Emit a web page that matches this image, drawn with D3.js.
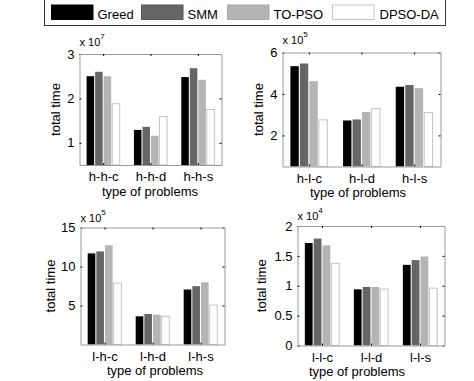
<!DOCTYPE html>
<html>
<head>
<meta charset="utf-8">
<script src="https://cdn.jsdelivr.net/npm/d3@7"></script>
<style>
  html, body { margin: 0; padding: 0; background: #fff; }
  svg { display: block; font-family: "Liberation Sans", Arial, Helvetica, sans-serif; }
</style>
</head>
<body>
<svg id="chart" width="474" height="381"></svg>
<script>
// ---------- data ----------
const series = ["Greed", "SMM", "TO-PSO", "DPSO-DA"];

const catsHH = ["h-h-c", "h-h-d", "h-h-s"];
const catsHL = ["h-l-c", "h-l-d", "h-l-s"];
const catsLH = ["l-h-c", "l-h-d", "l-h-s"];
const catsLL = ["l-l-c", "l-l-d", "l-l-s"];

// values per series, in order of the categories
const hhGreed = [2.50e7, 1.29e7, 2.48e7];
const hhSMM   = [2.60e7, 1.36e7, 2.68e7];
const hhTOPSO = [2.50e7, 1.16e7, 2.42e7];
const hhDPSO  = [1.88e7, 1.59e7, 1.75e7];

const hlGreed = [5.34e5, 2.72e5, 4.35e5];
const hlSMM   = [5.47e5, 2.77e5, 4.43e5];
const hlTOPSO = [4.62e5, 3.13e5, 4.28e5];
const hlDPSO  = [2.75e5, 3.30e5, 3.10e5];

const lhGreed = [11.68e5, 3.61e5, 7.05e5];
const lhSMM   = [11.93e5, 3.92e5, 7.48e5];
const lhTOPSO = [12.73e5, 3.82e5, 7.98e5];
const lhDPSO  = [7.87e5, 3.61e5, 5.06e5];

const llGreed = [1.715e4, 0.94e4, 1.35e4];
const llSMM   = [1.79e4, 0.98e4, 1.43e4];
const llTOPSO = [1.675e4, 0.98e4, 1.49e4];
const llDPSO  = [1.375e4, 0.945e4, 0.96e4];

const ticksHH = [1e7, 2e7, 3e7];
const ticksHL = [2e5, 4e5, 6e5];
const ticksLH = [5e5, 10e5, 15e5];
const ticksLL = [0, 0.5e4, 1e4, 1.5e4, 2e4];

const domHH = [0.5e7, 3e7];
const domHL = [0.5e5, 6e5];
const domLH = [0, 15e5];
const domLL = [0, 2e4];

const expHH = 7, expHL = 5, expLH = 5, expLL = 4;

const xTitle = "type of problems";
const yTitle = "total time";

// ---------- styles ----------
const fills   = ["#000000", "#666666", "#b4b4b4", "#ffffff"];
const strokes = ["#000000", "#555555", "#a8a8a8", "#c4c4c4"];

const panels = [
  { cats: catsHH, vals: [hhGreed, hhSMM, hhTOPSO, hhDPSO], ticks: ticksHH, dom: domHH, exp: expHH,
    x0: 79.5, x1: 221.5, y0: 54, y1: 165, ylabX: 60, xlabX: 150, expY: 46 },
  { cats: catsHL, vals: [hlGreed, hlSMM, hlTOPSO, hlDPSO], ticks: ticksHL, dom: domHL, exp: expHL,
    x0: 282.5, x1: 440.5, y0: 52.5, y1: 166.5, ylabX: 263, xlabX: 358, expY: 43.5 },
  { cats: catsLH, vals: [lhGreed, lhSMM, lhTOPSO, lhDPSO], ticks: ticksLH, dom: domLH, exp: expLH,
    x0: 80.5, x1: 224.5, y0: 227.5, y1: 344.5, ylabX: 55, xlabX: 155, expY: 221.5 },
  { cats: catsLL, vals: [llGreed, llSMM, llTOPSO, llDPSO], ticks: ticksLL, dom: domLL, exp: expLL,
    x0: 297.5, x1: 444.5, y0: 226, y1: 345.5, ylabX: 266, xlabX: 357, expY: 220 }
];

const svg = d3.select("#chart");

// ---------- legend ----------
const leg = svg.append("g");
leg.append("rect").attr("x", 44.5).attr("y", -4).attr("width", 401).attr("height", 29.5)
  .attr("fill", "#fff").attr("stroke", "#333").attr("stroke-width", 1);
const legX = [51.5, 141.5, 227.5, 332.5];
series.forEach((s, i) => {
  leg.append("rect").attr("x", legX[i]).attr("y", 5).attr("width", 41.5).attr("height", 14.5)
    .attr("fill", fills[i]).attr("stroke", strokes[i]).attr("stroke-width", 1);
  leg.append("text").attr("x", legX[i] + (i === 3 ? 47 : 46)).attr("y", 18.5)
    .attr("font-size", 13).attr("fill", "#000").text(s);
});

// ---------- panels ----------
panels.forEach(p => {
  const g = svg.append("g");
  const x = d3.scaleLinear().domain([0.5, 3.5]).range([p.x0, p.x1]);
  const y = d3.scaleLinear().domain(p.dom).range([p.y1, p.y0]);
  const inner = d3.scaleBand().domain(series).range([-0.35, 0.35]).paddingInner(0.12);
  const bw = x(inner.bandwidth()) - x(0);
  const scale = Math.pow(10, p.exp);

  // bars
  series.forEach((s, si) => {
    g.selectAll(null).data(p.vals[si]).enter().append("rect")
      .attr("x", (d, ci) => x(ci + 1 + inner(s)))
      .attr("width", bw)
      .attr("y", d => y(d))
      .attr("height", d => y(p.dom[0]) - y(d))
      .attr("fill", fills[si])
      .attr("stroke", si === 3 ? strokes[si] : "none")
      .attr("stroke-width", 1);
  });

  const fmt = d => d3.format("~g")(+(d / scale).toFixed(3));

  // left axis
  const ax = g.append("g").attr("transform", `translate(${p.x0},0)`)
    .call(d3.axisLeft(y).tickValues(p.ticks).tickSizeInner(-2).tickSizeOuter(0).tickPadding(5).tickFormat(fmt));
  // right axis
  const ar = g.append("g").attr("transform", `translate(${p.x1},0)`)
    .call(d3.axisRight(y).tickValues(p.ticks).tickSizeInner(-2).tickSizeOuter(0).tickFormat(""));
  // top axis
  const at = g.append("g").attr("transform", `translate(0,${p.y0})`)
    .call(d3.axisTop(x).tickValues([1, 2, 3]).tickSizeInner(-2).tickSizeOuter(0).tickFormat(""));
  // bottom axis
  const ab = g.append("g").attr("transform", `translate(0,${p.y1})`)
    .call(d3.axisBottom(x).tickValues([1, 2, 3]).tickSizeInner(-2).tickSizeOuter(0).tickPadding(7)
      .tickFormat(d => p.cats[d - 1]));

  [ax, ar, at, ab].forEach(a => {
    a.select(".domain").attr("stroke", "#9a9a9a");
    a.selectAll(".tick line").attr("stroke", "#000");
    a.selectAll("text").attr("fill", "#000").attr("font-family", null);
    a.attr("font-family", null);
  });
  ax.attr("font-size", 13);
  ab.attr("font-size", 13);

  // exponent label
  const et = g.append("text").attr("x", p.x0).attr("y", p.expY).attr("font-size", 11).attr("fill", "#000");
  et.append("tspan").text("x 10");
  et.append("tspan").attr("dy", -7).attr("font-size", 8).text(p.exp);

  // y title
  g.append("text")
    .attr("transform", `translate(${p.ylabX},${(p.y0 + p.y1) / 2}) rotate(-90)`)
    .attr("text-anchor", "middle").attr("font-size", 13).attr("fill", "#000").text(yTitle);

  // x title
  g.append("text").attr("x", p.xlabX).attr("y", p.y1 + 30.5)
    .attr("text-anchor", "middle").attr("font-size", 13).attr("fill", "#000").text(xTitle);
});
</script>
</body>
</html>
